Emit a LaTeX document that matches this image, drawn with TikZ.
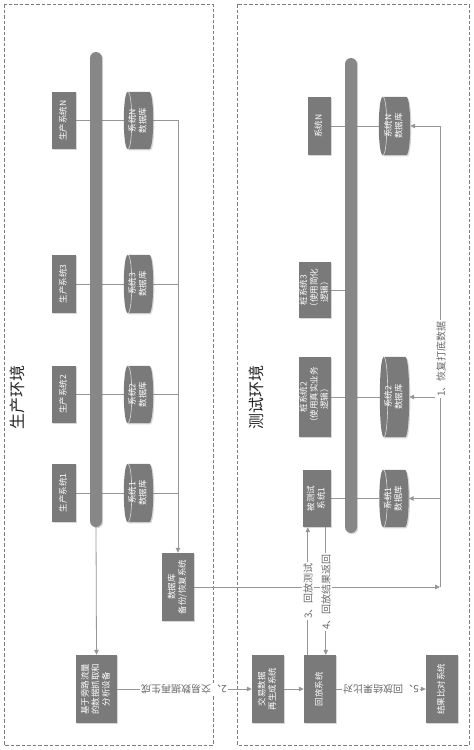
\documentclass[tikz,border=0pt]{standalone}
\usepackage{fontspec}
\usepackage{graphicx}
\setmainfont{Noto Sans CJK SC}
\usetikzlibrary{arrows.meta,shapes.geometric,shadows,backgrounds}
\definecolor{boxgray}{RGB}{122,122,122}
\definecolor{busgray}{RGB}{135,135,135}
\definecolor{linegray}{RGB}{150,150,150}
\definecolor{dashgray}{RGB}{125,125,125}
\definecolor{labgray}{RGB}{105,105,105}
\newcommand\vt[1]{\rotatebox{90}{\begin{tabular}{@{}c@{}}#1\end{tabular}}}
\newcommand\cyl[1]{%
  \fill[boxgray,shd] ([xshift=4pt]#1.north west) -- ([xshift=-4pt]#1.north east)
    .. controls ([xshift=1.33pt]#1.north east) and ([xshift=1.33pt]#1.south east) .. ([xshift=-4pt]#1.south east)
    -- ([xshift=4pt]#1.south west)
    .. controls ([xshift=-1.33pt]#1.south west) and ([xshift=-1.33pt]#1.north west) .. cycle;
  \draw[white!72!boxgray,line width=0.6pt] ([xshift=4pt]#1.north west)
    .. controls ([xshift=9.33pt]#1.north west) and ([xshift=9.33pt]#1.south west) .. ([xshift=4pt]#1.south west);}
\begin{document}
\begin{tikzpicture}[x=1pt,y=-1pt,
  shd/.style={drop shadow={shadow xshift=1.2pt,shadow yshift=-1.2pt,opacity=0.3}},
  box/.style={rectangle,fill=boxgray,text=white,inner sep=0pt,shd,
    font=\fontsize{8.5}{10.5}\selectfont},
  db/.style={rectangle,text=white,inner sep=0pt,
    font=\fontsize{8.5}{10.5}\selectfont},
  bus/.style={rectangle,rounded corners=6pt,fill=busgray,inner sep=0pt,
    minimum width=12pt,minimum height=475pt,shd},
  ln/.style={draw=linegray,line width=0.8pt},
  arr/.style={ln,-{Triangle[length=5pt,width=4.5pt]}},
  frame/.style={draw=dashgray,line width=0.7pt,dash pattern=on 3.5pt off 2pt},
  lab/.style={fill=white,text=labgray,inner sep=1pt,font=\fontsize{10}{12}\selectfont},
  env/.style={text=black!85,inner sep=0pt,font=\fontsize{16}{18}\selectfont,rotate=90}
]
\useasboundingbox (0,0) rectangle (474,750);
% frames
\draw[frame] (4,4) rectangle (213,745);
\draw[frame] (237,4) rectangle (469,745);
\node[env] (envP) at (17,397) {生产环境};
\node[env] (envT) at (256,397) {测试环境};
% production
\node[bus] (busP) at (96,289.5) {};
\node[box,minimum width=24pt,minimum height=57pt] (psN) at (64,120.5) {\vt{生产系统N}};
\node[box,minimum width=24pt,minimum height=58pt] (ps3) at (64,284) {\vt{生产系统3}};
\node[box,minimum width=24pt,minimum height=57pt] (ps2) at (64,394.5) {\vt{生产系统2}};
\node[box,minimum width=24pt,minimum height=58pt] (ps1) at (64,493) {\vt{生产系统1}};
\node[db,minimum width=29pt,minimum height=57pt] (dbN) at (138.5,120.5) {\vt{系统N\\数据库}};
\node[db,minimum width=29pt,minimum height=58pt] (db3) at (138.5,284) {\vt{系统3\\数据库}};
\node[db,minimum width=29pt,minimum height=57pt] (db2) at (138.5,394.5) {\vt{系统2\\数据库}};
\node[db,minimum width=29pt,minimum height=58pt] (db1) at (138.5,493) {\vt{系统1\\数据库}};
\node[box,minimum width=32pt,minimum height=68pt] (bk) at (178,587) {\vt{数据库\\备份/恢复系统}};
\node[box,minimum width=41pt,minimum height=68pt] (an) at (96.5,689) {\vt{基于旁路流量\\的数据抓取和\\分析设备}};
% test
\node[bus] (busT) at (351,295.5) {};
\node[box,minimum width=23pt,minimum height=58pt] (tsN) at (319.5,126) {\vt{系统N}};
\node[box,minimum width=32pt,minimum height=56pt] (ts3) at (315,290) {\vt{桩系统3\\（使用简化\\逻辑）}};
\node[box,minimum width=32pt,minimum height=80pt] (ts2) at (315,397) {\vt{桩系统2\\（使用真实业务\\逻辑）}};
\node[box,minimum width=28pt,minimum height=57pt] (ts1) at (317,498.5) {\vt{被测试\\系统1}};
\node[db,minimum width=31pt,minimum height=58pt] (dbtN) at (394.5,126) {\vt{系统N\\数据库}};
\node[db,minimum width=29pt,minimum height=80pt] (dbt2) at (394.5,397) {\vt{系统2\\数据库}};
\node[db,minimum width=29pt,minimum height=57pt] (dbt1) at (394,498.5) {\vt{系统1\\数据库}};
\node[box,minimum width=32pt,minimum height=68pt] (tg) at (268,689) {\vt{交易数据\\再生成系统}};
\node[box,minimum width=32pt,minimum height=68pt] (rp) at (320,689) {\vt{回放系统}};
\node[box,minimum width=32pt,minimum height=68pt] (cmp) at (442,689) {\vt{结果比对系统}};
\coordinate (rc) at (440,587);
% connectors and cylinder bodies (behind texts)
\begin{scope}[on background layer]
\fill[white] (0,0) rectangle (474,750);
\draw[ln] (psN.east) -- (dbN.west);
\draw[ln] (ps3.east) -- (db3.west);
\draw[ln] (ps2.east) -- (db2.west);
\draw[ln] (ps1.east) -- (db1.west);
\draw[arr] (dbN.east) -| (bk.north);
\draw[ln] (db3.east) -- (db3.east -| bk.north);
\draw[ln] (db2.east) -- (db2.east -| bk.north);
\draw[ln] (db1.east) -- (db1.east -| bk.north);
\draw[arr] (busP.south) -- (an.north);
\draw[ln] (tsN.east) -- (dbtN.west);
\draw[ln] (ts3.east) -- (ts3.east -| busT.west);
\draw[ln] (ts2.east) -- (dbt2.west);
\draw[ln] (ts1.east) -- (dbt1.west);
\cyl{dbN}\cyl{db3}\cyl{db2}\cyl{db1}
\cyl{dbtN}\cyl{dbt2}\cyl{dbt1}
\end{scope}
\draw[arr] (bk.east) -- (rc);
\draw[arr] (rc) |- (dbtN.east);
\draw[arr] (rc |- dbt2.east) -- (dbt2.east);
\draw[arr] (rc |- dbt1.east) -- (dbt1.east);
\draw[arr] (an.east) -- (tg.west);
\draw[arr] (tg.east) -- (rp.west);
\draw[arr] (rp.east) -- (cmp.west);
\draw[arr] ([xshift=4pt]rp.north west) -- ([xshift=4pt]rp.north west |- ts1.south);
\draw[arr] ([xshift=22pt]rp.north west |- ts1.south) -- ([xshift=22pt]rp.north west);
% labels
\node[lab,rotate=90] (l1) at (441,359) {1、恢复打底数据};
\node[lab,rotate=180] (l2) at (184,689) {2、交易数据再生成};
\node[lab,rotate=90] (l3) at (308,591) {3、回放测试};
\node[lab,rotate=90] (l4) at (326,592) {4、回放结果返回};
\node[lab,rotate=180] (l5) at (381,689) {5、回放结果比对};
\end{tikzpicture}
\end{document}
